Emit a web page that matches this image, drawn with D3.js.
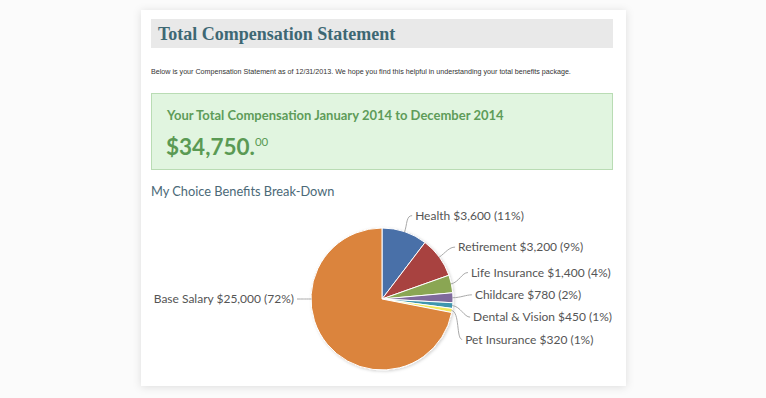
<!DOCTYPE html>
<html><head><meta charset="utf-8">
<script src="https://cdn.jsdelivr.net/npm/d3@7"></script>
<style>
html,body{margin:0;padding:0;background:#fbfbfb;}
svg{display:block;}
</style></head>
<body>
<svg id="c" width="766" height="398"></svg>
<script>
const categories = ["Health","Retirement","Life Insurance","Childcare","Dental & Vision","Pet Insurance","Base Salary"];
const values = [3600,3200,1400,780,450,320,25000];
const percents = ["11%","9%","4%","2%","1%","1%","72%"];
const colors = ["#4a6fa8","#a8433f","#8aa653","#7f6a9c","#3f96ae","#f2e75c","#db843d"];
const titleText = "Total Compensation Statement";
const introText = "Below is your Compensation Statement as of 12/31/2013. We hope you find this helpful in understanding your total benefits package.";
const totalLabel = "Your Total Compensation January 2014 to December 2014";
const totalMain = "$34,750.";
const totalCents = "00";
const chartTitle = "My Choice Benefits Break-Down";

const svg = d3.select("#c");
const defs = svg.append("defs");
const sh = defs.append("filter").attr("id","cardShadow").attr("x","-10%").attr("y","-10%").attr("width","120%").attr("height","120%");
sh.append("feDropShadow").attr("dx",0).attr("dy",1).attr("stdDeviation",4).attr("flood-color","#000").attr("flood-opacity",0.12);
const ps = defs.append("filter").attr("id","pieShadow").attr("x","-20%").attr("y","-20%").attr("width","140%").attr("height","140%");
ps.append("feDropShadow").attr("dx",1).attr("dy",1).attr("stdDeviation",1.5).attr("flood-color","#000").attr("flood-opacity",0.18);

// card
svg.append("rect").attr("x",141).attr("y",10).attr("width",485).attr("height",376).attr("fill","#fff").attr("filter","url(#cardShadow)");
// title bar
svg.append("rect").attr("x",151).attr("y",19).attr("width",462).attr("height",29).attr("fill","#e9e9e9");
svg.append("text").attr("x",158).attr("y",40).text(titleText)
  .attr("font-family","'Liberation Serif', 'DejaVu Serif', serif").attr("font-weight","bold").attr("font-size",18).attr("fill","#3e6874");
svg.append("text").attr("x",151).attr("y",74).text(introText)
  .attr("font-family","'Liberation Sans', Arial, sans-serif").attr("font-size",7.15).attr("fill","#333");
// green box
svg.append("rect").attr("x",151.5).attr("y",93.5).attr("width",461).attr("height",76).attr("fill","#e1f5e0").attr("stroke","#b9dcb4");
svg.append("text").attr("x",167).attr("y",120).text(totalLabel)
  .attr("font-family","Lato, 'Open Sans', sans-serif").attr("font-weight","bold").attr("font-size",13).attr("fill","#5e9c59");
const tm = svg.append("text").attr("x",166).attr("y",155)
  .attr("font-family","Lato, 'Open Sans', sans-serif").attr("font-weight","bold").attr("font-size",22.5).attr("fill","#5a9a54");
tm.append("tspan").text(totalMain);
tm.append("tspan").attr("font-size",11.5).attr("dy",-9).attr("font-weight","normal").text(totalCents);
svg.append("text").attr("x",151).attr("y",196).text(chartTitle)
  .attr("font-family","Lato, 'Open Sans', sans-serif").attr("font-size",12.8).attr("fill","#4b6977");

// pie
const cx = 382, cy = 299, r = 71, labelR = r + 17, leftR = r + 12, gap = 22.3;
const data = categories.map((c,i)=>({name:c,value:values[i],pct:percents[i],color:colors[i]}));
const pie = d3.pie().value(d=>d.value).sort(null).startAngle(0).endAngle(2*Math.PI);
const arcs = pie(data);
const arcGen = d3.arc().innerRadius(0).outerRadius(r);
const g = svg.append("g").attr("transform",`translate(${cx},${cy})`);
g.append("g").attr("filter","url(#pieShadow)").selectAll("path").data(arcs).join("path")
  .attr("d",arcGen).attr("fill",d=>d.data.color).attr("stroke","#fff").attr("stroke-width",1).attr("stroke-linejoin","round");

// label layout
const labels = arcs.map(a=>{
  const mid = (a.startAngle+a.endAngle)/2;
  const right = Math.sin(mid) >= 0;
  const spans = a.startAngle <= 1.5*Math.PI && a.endAngle >= 1.5*Math.PI;
  const ang = (!right && spans) ? 1.5*Math.PI : mid;
  const y = cy - labelR*Math.cos(ang);
  return {a, ang, right, natural:y, y, w:a.data.value};
});
function distribute(list){
  list.sort((p,q)=>p.natural-q.natural);
  let clusters = list.map(l=>({items:[l]}));
  const place = c=>{
    let sw=0, s=0;
    c.items.forEach((it,i)=>{ sw+=it.w; s+=it.w*(it.natural - i*gap); });
    c.top = s/sw; c.bottom = c.top + (c.items.length-1)*gap;
  };
  clusters.forEach(place);
  let merged = true;
  while(merged){
    merged = false;
    for(let i=1;i<clusters.length;i++){
      if(clusters[i].top - clusters[i-1].bottom < gap){
        clusters[i-1].items = clusters[i-1].items.concat(clusters[i].items);
        clusters.splice(i,1); place(clusters[i-1]); merged = true; break;
      }
    }
  }
  clusters.forEach(c=>c.items.forEach((it,i)=>it.y = c.top + i*gap));
}
distribute(labels.filter(l=>l.right));
distribute(labels.filter(l=>!l.right));
labels.forEach(l=>{
  const R = l.right ? labelR : leftR;
  const dy = Math.max(-R, Math.min(R, l.y - cy));
  const dx = Math.sqrt(R*R - dy*dy) + 2;
  l.x = l.right ? cx + dx : cx - dx;
  const er = r - 0.5;
  l.sx = cx + er*Math.sin(l.ang);
  l.sy = cy - er*Math.cos(l.ang);
  l.c1x = cx + (r+8)*Math.sin(l.ang); l.c1y = cy - (r+8)*Math.cos(l.ang);
});
const lg = svg.append("g");
lg.selectAll("path").data(labels).join("path")
  .attr("d",l=>{
    const sgn = l.right?1:-1;
    return `M${l.sx},${l.sy} C${l.c1x},${l.c1y} ${l.x - sgn*6},${l.y} ${l.x},${l.y}`;
  })
  .attr("fill","none").attr("stroke","#a9a9a9").attr("stroke-width",1);
lg.selectAll("text").data(labels).join("text")
  .attr("x",l=>l.right ? l.x+3 : l.x-3).attr("y",l=>l.y+4.3)
  .attr("text-anchor",l=>l.right?"start":"end")
  .attr("font-family","Lato, 'Open Sans', sans-serif").attr("font-size",12).attr("fill","#555")
  .text(l=>`${l.a.data.name} ${d3.format("$,")(l.a.data.value)} (${l.a.data.pct})`);
</script>
</body></html>
